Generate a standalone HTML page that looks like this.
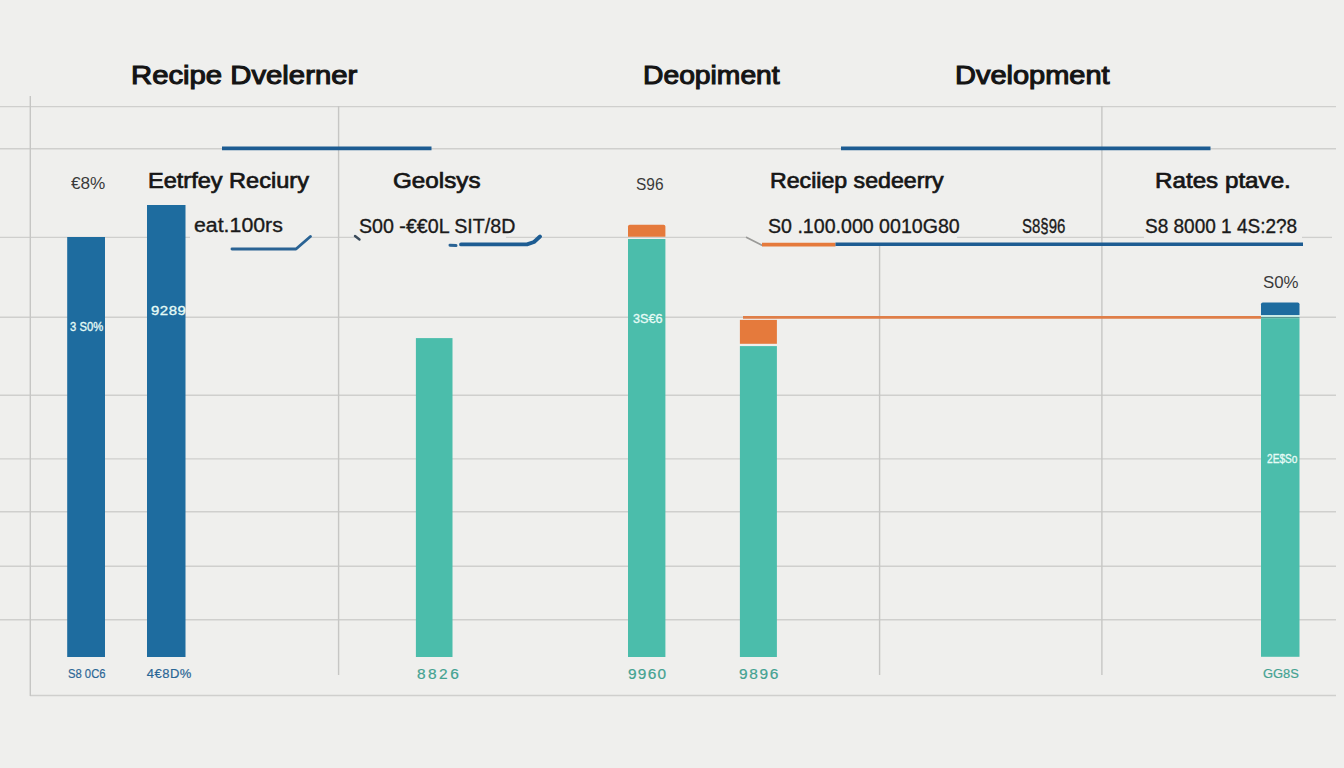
<!DOCTYPE html>
<html><head><meta charset="utf-8">
<style>
html,body{margin:0;padding:0;}
body{width:1344px;height:768px;background:#efefed;position:relative;overflow:hidden;font-family:"Liberation Sans",sans-serif;}
.h{position:absolute;left:0;height:2px;background:#d3d3d1;}
.v{position:absolute;width:2px;background:#cdcdcb;}
.bar{position:absolute;}
.blue{background:#1e6c9f;}
.teal{background:#4bbdab;}
.orange{background:#e57d3b;}
.t{position:absolute;white-space:nowrap;line-height:1;transform-origin:0 0;}
.ln{position:absolute;}
</style></head><body>
<svg width="1344" height="768" style="position:absolute;left:0;top:0">
<g stroke="#cfcfcd" stroke-width="1.4" fill="none">
<line x1="0" y1="106.6" x2="1336" y2="106.6"/>
<line x1="0" y1="148.7" x2="1336" y2="148.7"/>
<line x1="0" y1="237.4" x2="190" y2="237.4"/>
<line x1="310" y1="237.4" x2="356" y2="237.4"/>
<line x1="506" y1="237.4" x2="747" y2="237.4"/>
<line x1="957" y1="237.4" x2="1144" y2="237.4" stroke-width="1.3"/>
<line x1="1302" y1="237.4" x2="1332" y2="237.4" stroke-width="1.3"/>
<line x1="0" y1="317.2" x2="1336" y2="317.2"/>
<line x1="0" y1="395.2" x2="1336" y2="395.2"/>
<line x1="0" y1="458.9" x2="1336" y2="458.9"/>
<line x1="0" y1="511.7" x2="1336" y2="511.7"/>
<line x1="0" y1="566.2" x2="1336" y2="566.2"/>
<line x1="0" y1="619.8" x2="1336" y2="619.8"/>
<line x1="30" y1="695.5" x2="1336" y2="695.5"/>
</g>
<g stroke="#c6c6c4" stroke-width="1.4" fill="none">
<line x1="30.3" y1="96" x2="30.3" y2="696"/>
<line x1="338.6" y1="106" x2="338.6" y2="675"/>
<line x1="879.6" y1="243" x2="879.6" y2="675"/>
<line x1="1101.9" y1="106" x2="1101.9" y2="675"/>
</g>
<g fill="none" stroke-linecap="round" stroke-linejoin="round">
<line x1="222" y1="148.4" x2="431.5" y2="148.4" stroke="#1d5c92" stroke-width="3.6" stroke-linecap="butt"/>
<line x1="841" y1="148.4" x2="1210.5" y2="148.4" stroke="#1d5c92" stroke-width="3.6" stroke-linecap="butt"/>
<polyline points="232,249 296,249 310.4,236.5" stroke="#2a6394" stroke-width="2.9"/>
<polyline points="355,236 359.5,239.5" stroke="#3a4a5a" stroke-width="2.4"/>
<polyline points="450,245.2 456,245.6" stroke="#2a6394" stroke-width="3"/>
<polyline points="461,244.4 527,244.4 534,242 540,236.5" stroke="#1d5c92" stroke-width="3.8"/>
<polyline points="746.7,237.5 761.5,245" stroke="#9a9a98" stroke-width="1.8"/>
<line x1="762" y1="244.6" x2="835.5" y2="244.6" stroke="#e57a3c" stroke-width="3.6" stroke-linecap="butt"/>
<line x1="835.5" y1="244.2" x2="1303" y2="244.2" stroke="#1d5c92" stroke-width="3.6" stroke-linecap="butt"/>
<line x1="743" y1="317.4" x2="1261" y2="317.4" stroke="#df7e48" stroke-width="2.8" stroke-linecap="butt"/>
</g>
<g stroke="none">
<rect x="67.2" y="237" width="37.8" height="420" fill="#1e6c9f"/>
<rect x="147" y="205" width="38.5" height="452" fill="#1e6c9f"/>
<rect x="415.9" y="338.1" width="36.6" height="318.9" fill="#4bbdab"/>
<path d="M628.00 226.50 Q628.00 224.70 629.80 224.70 H663.60 Q665.40 224.70 665.40 226.50 V236.80 H628.00 Z" fill="#e57a3c"/>
<rect x="628" y="239" width="37.4" height="418" fill="#4bbdab"/>
<rect x="739.9" y="319.9" width="37" height="23.9" fill="#e57a3c"/>
<rect x="739.9" y="346.1" width="37" height="310.9" fill="#4bbdab"/>
<path d="M1261.00 304.20 Q1261.00 302.40 1262.80 302.40 H1297.70 Q1299.50 302.40 1299.50 304.20 V315.00 H1261.00 Z" fill="#1e6c9f"/>
<rect x="1261" y="315.2" width="38.5" height="2" fill="#c2e9e4"/>
<rect x="1261" y="317.2" width="38.5" height="1" fill="#3f8884"/>
<rect x="1261" y="318.2" width="38.5" height="338.6" fill="#4bbdab"/>
</g>
</svg>

<div class="t" id="T1" style="left:130.87px;top:62.17px;font-size:26px;color:#141414;-webkit-text-stroke:1.1px #141414;transform:scale(1.1262,1.0000);">Recipe Dvelerner</div>
<div class="t" id="T2" style="left:642.91px;top:62.17px;font-size:26px;color:#141414;-webkit-text-stroke:1.1px #141414;transform:scale(1.0870,1.0000);">Deopiment</div>
<div class="t" id="T3" style="left:955.28px;top:62.17px;font-size:26px;color:#141414;-webkit-text-stroke:1.1px #141414;transform:scale(1.1142,1.0000);">Dvelopment</div>
<div class="t" id="S1" style="left:147.91px;top:170.63px;font-size:21.5px;color:#161616;-webkit-text-stroke:0.7px #161616;transform:scale(1.0948,1.0000);">Eetrfey Reciury</div>
<div class="t" id="S2" style="left:393.49px;top:170.70px;font-size:21.5px;color:#161616;-webkit-text-stroke:0.7px #161616;transform:scale(1.1273,1.0000);">Geolsys</div>
<div class="t" id="S3" style="left:770.34px;top:170.79px;font-size:21.5px;color:#161616;-webkit-text-stroke:0.7px #161616;transform:scale(1.0764,1.0000);">Reciiep sedeerry</div>
<div class="t" id="S4" style="left:1154.88px;top:170.91px;font-size:21.5px;color:#161616;-webkit-text-stroke:0.7px #161616;transform:scale(1.1254,1.0000);">Rates ptave.</div>
<div class="t" id="N1" style="left:194.28px;top:215.40px;font-size:20px;color:#1a1a1a;-webkit-text-stroke:0.35px #1a1a1a;transform:scale(1.0651,1.0000);">eat.100rs</div>
<div class="t" id="N2" style="left:358.51px;top:216.40px;font-size:20px;color:#1a1a1a;-webkit-text-stroke:0.35px #1a1a1a;transform:scale(0.9810,1.0000);">S00 -€€0L SIT/8D</div>
<div class="t" id="N3" style="left:768.41px;top:216.00px;font-size:20px;color:#1a1a1a;-webkit-text-stroke:0.35px #1a1a1a;transform:scale(0.9796,1.0000);">S0 .100.000 0010G80</div>
<div class="t" id="N4" style="left:1022.22px;top:216.00px;font-size:20px;color:#1a1a1a;-webkit-text-stroke:0.35px #1a1a1a;transform:scale(0.7504,1.0000);">S8§96</div>
<div class="t" id="N5" style="left:1145.04px;top:216.00px;font-size:20px;color:#1a1a1a;-webkit-text-stroke:0.35px #1a1a1a;transform:scale(0.9498,1.0000);">S8 8000 1 4S:2?8</div>
<div class="t" id="P1" style="left:71.22px;top:176.40px;font-size:16px;color:#3a3a3a;transform:scale(1.0728,1.0000);">€8%</div>
<div class="t" id="P2" style="left:636.40px;top:177.00px;font-size:16px;color:#3a3a3a;transform:scale(0.9657,1.0000);">S96</div>
<div class="t" id="P3" style="left:1262.98px;top:275.40px;font-size:16px;color:#3a3a3a;transform:scale(1.0529,1.0000);">S0%</div>
<div class="t" id="I1" style="left:70.00px;top:320.25px;font-size:13px;color:#e6fbf6;-webkit-text-stroke:0.35px #e6fbf6;transform:scale(0.8653,1.0000);">3 S0%</div>
<div class="t" id="I2" style="left:150.71px;top:304.00px;font-size:13px;color:#e6fbf6;-webkit-text-stroke:0.35px #e6fbf6;letter-spacing:0.442px;transform:scale(1.1500,1.0000);">9289</div>
<div class="t" id="I3" style="left:633.00px;top:312.30px;font-size:13px;color:#e6fbf6;-webkit-text-stroke:0.35px #e6fbf6;transform:scale(0.9740,1.0000);">3S€6</div>
<div class="t" id="I4" style="left:1267.17px;top:452.30px;font-size:13px;color:#e6fbf6;-webkit-text-stroke:0.35px #e6fbf6;transform:scale(0.7785,1.0000);">2E$So</div>
<div class="t" id="B1" style="left:67.95px;top:666.80px;font-size:13px;color:#2b6695;-webkit-text-stroke:0.2px #2b6695;transform:scale(0.8648,1.0000);">S8 0C6</div>
<div class="t" id="B2" style="left:146.69px;top:666.80px;font-size:13px;color:#2b6695;-webkit-text-stroke:0.2px #2b6695;letter-spacing:0.500px;transform:scale(1.0000,1.0000);">4€8D%</div>
<div class="t" id="B3" style="left:417.34px;top:667.10px;font-size:14px;color:#43a291;-webkit-text-stroke:0.2px #43a291;letter-spacing:2.253px;transform:scale(1.1000,1.0000);">8826</div>
<div class="t" id="B4" style="left:627.68px;top:667.10px;font-size:14px;color:#43a291;-webkit-text-stroke:0.2px #43a291;letter-spacing:1.191px;transform:scale(1.1000,1.0000);">9960</div>
<div class="t" id="B5" style="left:738.53px;top:667.10px;font-size:14px;color:#43a291;-webkit-text-stroke:0.2px #43a291;letter-spacing:1.500px;transform:scale(1.1000,1.0000);">9896</div>
<div class="t" id="B6" style="left:1262.63px;top:666.50px;font-size:13px;color:#43a291;-webkit-text-stroke:0.2px #43a291;transform:scale(0.9918,1.0000);">GG8S</div>
</body></html>
